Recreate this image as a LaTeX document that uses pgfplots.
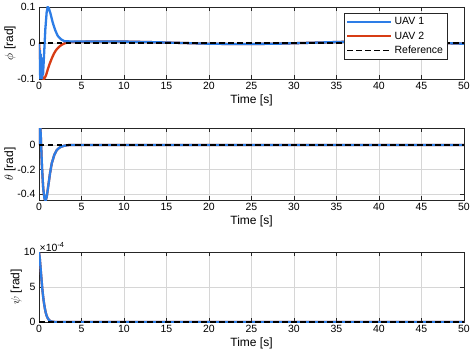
\documentclass[border=0pt]{standalone}
\usepackage{pgfplots}
\pgfplotsset{compat=1.18}
\usepackage{fontspec}
\setmainfont{Liberation Sans}
\definecolor{uavblue}{RGB}{45,125,230}
\definecolor{uavred}{RGB}{215,60,20}
\pgfplotsset{
  myax/.style={
    scale only axis, width=425pt, xmin=0, xmax=50,
    xtick={0,5,...,50},
    grid=major, grid style={black!16, line width=0.6pt},
    tick align=inside, tick pos=both,
    axis line style={black!85, line width=0.7pt},
    major tick style={black!85, line width=0.6pt},
    major tick length=4pt,
    /pgf/number format/assume math mode=true,
    tick label style={font=\fontsize{10.5}{12}\selectfont},
    label style={font=\fontsize{12}{14}\selectfont},
    xlabel={Time [s]},
    xlabel style={yshift=2pt},
    ylabel style={yshift=-5pt},
    clip=true,
  },
  uav1/.style={uavblue, line width=2.3pt},
  uav2/.style={uavred, line width=2.3pt},
  refl/.style={black, line width=1.3pt, dash pattern=on 5.5pt off 3.5pt},
}
\begin{document}
\begin{tikzpicture}
\useasboundingbox (0pt,0pt) rectangle (474pt,-361pt);
% phi
\begin{axis}[myax, at={(39pt,-7pt)}, anchor=north west, height=72pt,
  ymin=-0.1, ymax=0.1, ytick={-0.1,0,0.1},
  yticklabels={-0.1,0,0.1},
  ylabel={$\phi$ [rad]},
  legend style={at={(0.962,0.92)}, anchor=north east, font=\fontsize{10.5}{12}\selectfont,
    draw=black!85, line width=0.6pt, cells={anchor=west}, row sep=1.5pt, inner sep=2.5pt},
  legend image code/.code={\draw[#1] (0pt,0pt) -- (36pt,0pt); \path (0pt,0pt) -- (44pt,0pt);},
]
\addlegendimage{uav1}\addlegendentry{UAV 1}
\addlegendimage{uav2}\addlegendentry{UAV 2}
\addlegendimage{refl}\addlegendentry{Reference}
\addplot[uav2, forget plot] coordinates {
(0,0) (0.15,-0.05) (0.3,-0.085) (0.45,-0.098) (0.55,-0.1) (0.7,-0.096) (0.85,-0.088)
(1,-0.076) (1.25,-0.058) (1.5,-0.043) (1.75,-0.03) (2,-0.02) (2.3,-0.012)
(2.6,-0.006) (3,-0.001) (3.5,0.002) (4,0.003) (6,0.004) (10,0.004) (14,0.002)
(17,0) (20,-0.002) (24,-0.003) (28,-0.002) (31,0) (34,0.002) (37,0.004)
(40,0.004) (44,0.002) (47,0) (50,-0.002)};
\addplot[uav1, forget plot] coordinates {
(0,0) (0.05,-0.09) (0.1,-0.02) (0.15,-0.1) (0.2,-0.03) (0.25,-0.1) (0.3,-0.04)
(0.35,-0.1) (0.4,-0.06) (0.47,-0.09) (0.6,-0.03) (0.75,0.04) (0.9,0.085)
(1.02,0.1) (1.15,0.097) (1.35,0.082) (1.6,0.058) (1.9,0.036) (2.2,0.02)
(2.6,0.01) (3,0.005) (4,0.004) (6,0.004) (10,0.004) (14,0.002)
(17,0) (20,-0.002) (24,-0.003) (28,-0.002) (31,0) (34,0.002) (37,0.004)
(40,0.004) (44,0.002) (47,0) (50,-0.002)};
\addplot[refl, forget plot] coordinates {(0,0) (50,0)};
\end{axis}
% theta
\begin{axis}[myax, at={(39pt,-128pt)}, anchor=north west, height=72pt,
  ymin=-0.45, ymax=0.14, ytick={-0.4,-0.2,0},
  yticklabels={-0.4,-0.2,0},
  ylabel={$\theta$ [rad]},
]
\addplot[uav2] coordinates {
(0,0) (0.08,0.13) (0.15,0.16) (0.22,0.06) (0.35,-0.18) (0.5,-0.36) (0.65,-0.44)
(0.78,-0.455) (0.92,-0.42) (1.1,-0.33) (1.3,-0.23) (1.5,-0.15) (1.8,-0.08)
(2.1,-0.04) (2.5,-0.016) (3,-0.005) (3.5,0) (50,0)};
\addplot[uav1] coordinates {
(0,0) (0.08,0.13) (0.15,0.16) (0.22,0.06) (0.35,-0.18) (0.5,-0.36) (0.65,-0.44)
(0.78,-0.455) (0.92,-0.42) (1.1,-0.33) (1.3,-0.23) (1.5,-0.15) (1.8,-0.08)
(2.1,-0.04) (2.5,-0.016) (3,-0.005) (3.5,0) (50,0)};
\addplot[refl] coordinates {(0,0) (50,0)};
\end{axis}
% psi
\begin{axis}[myax, at={(39pt,-252pt)}, anchor=north west, height=70pt,
  ymin=0, ymax=0.001, ytick={0,0.0005,0.001},
  scaled y ticks=base 10:4,
  ytick scale label code/.code={×10\textsuperscript{-4}},
  every y tick scale label/.style={at={(rel axis cs:0,1)}, anchor=south west, inner sep=0.5pt,
    font=\fontsize{10.5}{12}\selectfont},
  ylabel={$\psi$ [rad]},
]
\addplot[uav2] coordinates {
(0,0.001) (0.1,0.0009) (0.2,0.00075) (0.3,0.0006) (0.4,0.00046) (0.5,0.00035)
(0.6,0.00026) (0.7,0.00019) (0.8,0.00013) (0.9,0.00009) (1,0.00006)
(1.2,0.000025) (1.4,0.00001) (1.6,0.000003) (2,0) (50,0)};
\addplot[uav1] coordinates {
(0,0.001) (0.1,0.0009) (0.2,0.00075) (0.3,0.0006) (0.4,0.00046) (0.5,0.00035)
(0.6,0.00026) (0.7,0.00019) (0.8,0.00013) (0.9,0.00009) (1,0.00006)
(1.2,0.000025) (1.4,0.00001) (1.6,0.000003) (2,0) (50,0)};
\addplot[refl] coordinates {(0,0) (50,0)};
\end{axis}
\end{tikzpicture}
\end{document}
